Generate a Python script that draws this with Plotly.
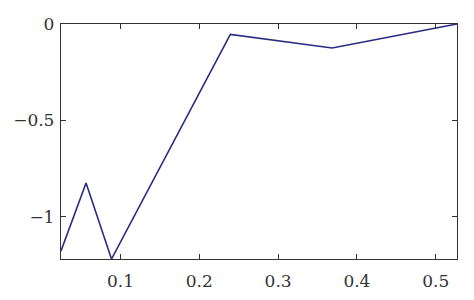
import plotly.graph_objects as go

x_vals = [0.0245, 0.0563, 0.0886, 0.2394, 0.3686, 0.5237, 0.527]
y_vals = [-1.176, -0.824, -1.218, -0.054, -0.1245, 0.0, 0.0]
x_ticks = [0.1, 0.2, 0.3, 0.4, 0.5]
x_tick_labels = ["0.1", "0.2", "0.3", "0.4", "0.5"]
y_ticks = [0, -0.5, -1]
y_tick_labels = ["0", "\u22120.5", "\u22121"]

fig = go.Figure()
fig.add_trace(go.Scatter(x=x_vals, y=y_vals, mode="lines",
                         line=dict(color="#2b2b85", width=1.6), showlegend=False))

font = dict(family="DejaVu Serif", size=17, color="#333333")
axis_common = dict(showgrid=False, zeroline=False, showline=True, linecolor="#333333",
                   linewidth=1.3, mirror="ticks", ticks="inside", ticklen=5,
                   tickcolor="#333333", tickwidth=1.2, tickfont=font, automargin=False)

fig.update_xaxes(range=[0.0245, 0.527], tickvals=x_ticks, ticktext=x_tick_labels,
                 ticklabelstandoff=6, **axis_common)
fig.update_yaxes(range=[-1.218, 0.0], tickvals=y_ticks, ticktext=y_tick_labels,
                 ticklabelstandoff=2, **axis_common)

fig.update_layout(width=474, height=300, margin=dict(l=61, r=17, t=24, b=41),
                  plot_bgcolor="white", paper_bgcolor="white", font=font)

fig.write_html("out.html")
